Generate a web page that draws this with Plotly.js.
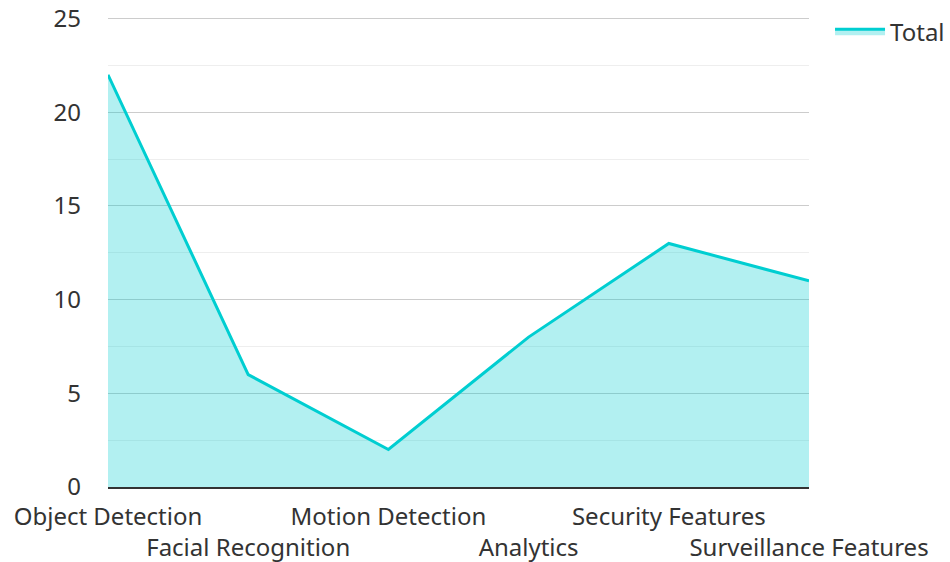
<!DOCTYPE html>
<html><head><meta charset="utf-8">
<script src="https://cdn.plot.ly/plotly-3.0.1.min.js"></script>
<style>html,body{margin:0;padding:0;background:#fff}</style>
</head><body>
<div id="chart" style="width:950px;height:562px"></div>
<script>
const categories = ["Object Detection","Facial Recognition","Motion Detection","Analytics","Security Features","Surveillance Features"];
const totals = [22, 6, 2, 8, 13, 11];
const seriesName = "Total";
const yTicks = [0, 5, 10, 15, 20, 25];

const idx = categories.map((c, i) => i);
const evenIdx = idx.filter(i => i % 2 === 0);
const oddIdx = idx.filter(i => i % 2 === 1);

const trace = {
  x: idx, y: totals, name: seriesName, type: 'scatter', mode: 'lines',
  fill: 'tozeroy', fillcolor: 'rgba(0,206,209,0.3)',
  line: {color: '#00CED1', width: 3}
};

const font = {family: '"Noto Sans", "Open Sans", sans-serif', size: 24, color: '#333'};

const layout = {
  width: 950, height: 562,
  margin: {l: 108, r: 141, t: 13, b: 75, autoexpand: false},
  paper_bgcolor: '#fff', plot_bgcolor: '#fff',
  font: font,
  showlegend: true,
  legend: {x: 1.03, y: 1.008, xanchor: 'left', yanchor: 'top', font: font, itemwidth: 50, bgcolor: 'rgba(0,0,0,0)'},
  xaxis: {
    range: [0, categories.length - 1], tickmode: 'array',
    tickvals: evenIdx, ticktext: evenIdx.map(i => categories[i]),
    showgrid: false, zeroline: false, showline: true, linecolor: '#333', linewidth: 2,
    ticks: '', ticklabelstandoff: 7, tickfont: font
  },
  xaxis2: {
    overlaying: 'x', anchor: 'y', side: 'bottom',
    range: [0, categories.length - 1], tickmode: 'array',
    tickvals: oddIdx, ticktext: oddIdx.map(i => categories[i]),
    showgrid: false, zeroline: false, showline: false,
    ticks: '', ticklabelstandoff: 44, tickfont: font
  },
  yaxis: {
    range: [0, 25.3], tickmode: 'array', tickvals: yTicks,
    showgrid: true, gridcolor: '#ccc', gridwidth: 1,
    minor: {dtick: 2.5, showgrid: true, gridcolor: '#eee', gridwidth: 1},
    zeroline: false, showline: false, ticks: '', ticklabelstandoff: 26, tickfont: font
  }
};

const dummy = {x: [0], y: [null], xaxis: 'x2', showlegend: false, hoverinfo: 'skip', mode: 'lines'};

Plotly.newPlot('chart', [trace, dummy], layout, {displayModeBar: false, staticPlot: true});
</script>
</body></html>
